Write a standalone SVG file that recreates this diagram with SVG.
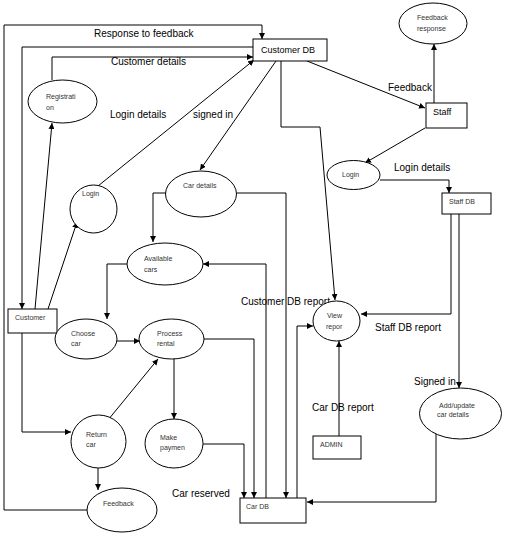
<svg xmlns="http://www.w3.org/2000/svg" width="509" height="536" viewBox="0 0 509 536">
<style>
.n{fill:#fff;stroke:#000;stroke-width:1}
.c{fill:none;stroke:#000;stroke-width:1;marker-end:url(#a)}
.t{font-family:"Liberation Sans",Arial,sans-serif;font-size:7px;fill:#333}
.b{font-family:"Liberation Sans",Arial,sans-serif;font-size:9px;fill:#000}
.l{font-family:"Liberation Sans",Arial,sans-serif;font-size:10px;fill:#000}
</style>
<defs>
<marker id="a" viewBox="0 0 10 10" refX="10" refY="5" markerWidth="6" markerHeight="6" orient="auto" markerUnits="userSpaceOnUse">
<path d="M0,0 L10,5 L0,10 z" fill="#000"/>
</marker>
</defs>
<rect width="509" height="536" fill="#fff"/>
<g id="connectors">
<path class="c" d="M87,510 H4 V25 H262 V39"/>
<path class="c" d="M253,47 H22 V309"/>
<path class="c" d="M52,80 V57 H253"/>
<path class="c" d="M35,309 L52,123"/>
<path class="c" d="M48,309 L77,222"/>
<path class="c" d="M98,186 L254,60"/>
<path class="c" d="M276,61 L200,170"/>
<path class="c" d="M281,61 V127 H320 L335,300"/>
<path class="c" d="M307,61 L425,108"/>
<path class="c" d="M434,103 V44"/>
<path class="c" d="M425,128 L365,163"/>
<path class="c" d="M380,180 H449 V193"/>
<path class="c" d="M451,214 V314 H361"/>
<path class="c" d="M459,214 V388"/>
<path class="c" d="M436,433 V502 H307"/>
<path class="c" d="M339,436 V341"/>
<path class="c" d="M297,498 V326 H313"/>
<path class="c" d="M166,193 H153 V242"/>
<path class="c" d="M237,193 H286 V498"/>
<path class="c" d="M266,498 V264 H203"/>
<path class="c" d="M127,264 H107 V319"/>
<path class="c" d="M117,341 H140"/>
<path class="c" d="M204,339 H254 V498"/>
<path class="c" d="M174,358 V419"/>
<path class="c" d="M203,444 H244 V498"/>
<path class="c" d="M22,333 V432 H71"/>
<path class="c" d="M108,420 L158,359"/>
<path class="c" d="M98,468 V490"/>
</g>
<g id="labels">
<text class="l" x="94" y="37">Response to feedback</text>
<text class="l" x="111" y="65">Customer details</text>
<text class="l" x="110" y="118">Login details</text>
<text class="l" x="193" y="118">signed in</text>
<text class="l" x="388" y="91">Feedback</text>
<text class="l" x="394" y="171">Login details</text>
<text class="l" x="241" y="305">Customer DB report</text>
<text class="l" x="375" y="331">Staff DB report</text>
<text class="l" x="414" y="385">Signed in</text>
<text class="l" x="312" y="411">Car DB report</text>
<text class="l" x="172" y="497">Car reserved</text>
</g>
<g id="customer-db"><rect class="n" x="253" y="39" width="74" height="22"/><text class="b" x="261" y="53">Customer DB</text></g>
<g id="customer"><rect class="n" x="8" y="309" width="49" height="24"/><text class="t" x="15" y="320">Customer</text></g>
<g id="staff"><rect class="n" x="426" y="103" width="41" height="25"/><text class="b" x="433" y="115">Staff</text></g>
<g id="staff-db"><rect class="n" x="442" y="193" width="49" height="21"/><text class="t" x="449" y="204">Staff DB</text></g>
<g id="car-db"><rect class="n" x="240" y="498" width="66" height="25"/><text class="t" x="246" y="509">Car DB</text></g>
<g id="admin"><rect class="n" x="313" y="436" width="48" height="23"/><text class="t" x="320" y="447">ADMIN</text></g>
<g id="registration"><ellipse class="n" cx="62.5" cy="101.5" rx="34.5" ry="21.5"/><text class="t" x="46" y="99">Registrati</text><text class="t" x="46" y="110">on</text></g>
<g id="login-customer"><ellipse class="n" cx="93.5" cy="209" rx="23.5" ry="24"/><text class="t" x="82" y="196">Login</text></g>
<g id="car-details"><ellipse class="n" cx="201" cy="194" rx="35.5" ry="23"/><text class="t" x="183" y="188">Car details</text></g>
<g id="available-cars"><ellipse class="n" cx="165" cy="264" rx="38" ry="21"/><text class="t" x="144" y="261">Available</text><text class="t" x="144" y="272">cars</text></g>
<g id="choose-car"><ellipse class="n" cx="86" cy="339" rx="31" ry="20"/><text class="t" x="71" y="336">Choose</text><text class="t" x="71" y="346">car</text></g>
<g id="process-rental"><ellipse class="n" cx="171.5" cy="339" rx="32.5" ry="20"/><text class="t" x="157" y="336">Process</text><text class="t" x="157" y="346">rental</text></g>
<g id="make-payment"><ellipse class="n" cx="174" cy="443.5" rx="29" ry="24.5"/><text class="t" x="160" y="440">Make</text><text class="t" x="160" y="450">paymen</text></g>
<g id="return-car"><ellipse class="n" cx="98.5" cy="441.5" rx="27.5" ry="26.5"/><text class="t" x="86" y="437">Return</text><text class="t" x="86" y="447">car</text></g>
<g id="feedback"><ellipse class="n" cx="122" cy="510" rx="35" ry="22"/><text class="t" x="103" y="506">Feedback</text></g>
<g id="view-report"><ellipse class="n" cx="336.5" cy="321" rx="23.5" ry="20"/><text class="t" x="327" y="318">View</text><text class="t" x="326" y="329">repor</text></g>
<g id="feedback-response"><ellipse class="n" cx="433" cy="23.5" rx="34" ry="20.5"/><text class="t" x="417" y="20">Feedback</text><text class="t" x="417" y="31">response</text></g>
<g id="login-staff"><ellipse class="n" cx="353.5" cy="175" rx="26.5" ry="14.5"/><text class="t" x="342" y="177">Login</text></g>
<g id="add-update"><ellipse class="n" cx="460.5" cy="413.5" rx="41" ry="25.5"/><text class="t" x="439" y="408">Add/update</text><text class="t" x="437" y="417">car details</text></g>
</svg>
